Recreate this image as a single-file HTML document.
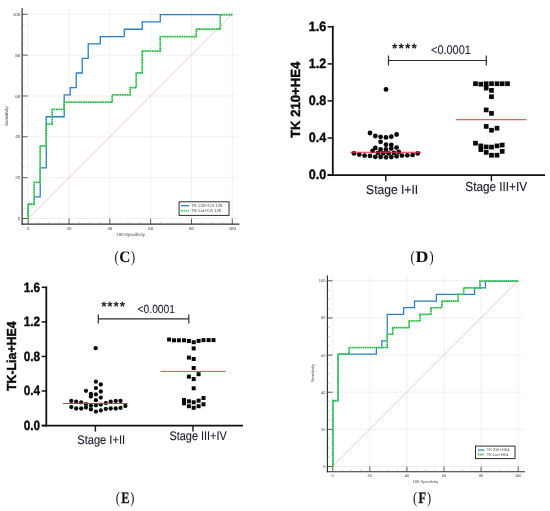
<!DOCTYPE html>
<html><head><meta charset="utf-8"><title>Figure</title>
<style>
html,body{margin:0;padding:0;background:#fff;}
svg{display:block;text-rendering:geometricPrecision;font-family:"Liberation Sans",sans-serif;}
</style></head>
<body>
<svg width="550" height="511" viewBox="0 0 550 511">
<rect width="550" height="511" fill="#fff"/>
<g id="panelC">
<line x1="22.1" y1="218.50" x2="237.8" y2="218.50" stroke="#eaeaea" stroke-width="0.7"/>
<line x1="28.20" y1="8.3" x2="28.20" y2="224.2" stroke="#eaeaea" stroke-width="0.7"/>
<line x1="22.1" y1="177.66" x2="237.8" y2="177.66" stroke="#eaeaea" stroke-width="0.7"/>
<line x1="69.02" y1="8.3" x2="69.02" y2="224.2" stroke="#eaeaea" stroke-width="0.7"/>
<line x1="22.1" y1="136.82" x2="237.8" y2="136.82" stroke="#eaeaea" stroke-width="0.7"/>
<line x1="109.84" y1="8.3" x2="109.84" y2="224.2" stroke="#eaeaea" stroke-width="0.7"/>
<line x1="22.1" y1="95.98" x2="237.8" y2="95.98" stroke="#eaeaea" stroke-width="0.7"/>
<line x1="150.66" y1="8.3" x2="150.66" y2="224.2" stroke="#eaeaea" stroke-width="0.7"/>
<line x1="22.1" y1="55.14" x2="237.8" y2="55.14" stroke="#eaeaea" stroke-width="0.7"/>
<line x1="191.48" y1="8.3" x2="191.48" y2="224.2" stroke="#eaeaea" stroke-width="0.7"/>
<line x1="22.1" y1="14.30" x2="237.8" y2="14.30" stroke="#eaeaea" stroke-width="0.7"/>
<line x1="232.30" y1="8.3" x2="232.30" y2="224.2" stroke="#eaeaea" stroke-width="0.7"/>
<line x1="28.20" y1="218.50" x2="232.30" y2="14.30" stroke="#f3b0b0" stroke-width="0.7"/>
<line x1="22.1" y1="8.3" x2="22.1" y2="224.79999999999998" stroke="#2c2c2c" stroke-width="1.2"/>
<line x1="21.5" y1="224.2" x2="239.3" y2="224.2" stroke="#2c2c2c" stroke-width="1.2"/>
<line x1="22.1" y1="218.50" x2="27.70" y2="218.50" stroke="#3a3a3a" stroke-width="0.8"/>
<line x1="28.20" y1="224.2" x2="28.20" y2="218.60" stroke="#3a3a3a" stroke-width="0.8"/>
<text x="20.10" y="220.08" font-size="4.4" text-anchor="end" fill="#3c3c3c">0</text>
<text x="28.20" y="229.79" font-size="4.4" text-anchor="middle" fill="#3c3c3c">0</text>
<line x1="22.1" y1="208.29" x2="24.70" y2="208.29" stroke="#999" stroke-width="0.5"/>
<line x1="38.41" y1="224.2" x2="38.41" y2="221.60" stroke="#999" stroke-width="0.5"/>
<line x1="22.1" y1="198.08" x2="24.70" y2="198.08" stroke="#999" stroke-width="0.5"/>
<line x1="48.61" y1="224.2" x2="48.61" y2="221.60" stroke="#999" stroke-width="0.5"/>
<line x1="22.1" y1="187.87" x2="24.70" y2="187.87" stroke="#999" stroke-width="0.5"/>
<line x1="58.82" y1="224.2" x2="58.82" y2="221.60" stroke="#999" stroke-width="0.5"/>
<line x1="22.1" y1="177.66" x2="27.70" y2="177.66" stroke="#3a3a3a" stroke-width="0.8"/>
<line x1="69.02" y1="224.2" x2="69.02" y2="218.60" stroke="#3a3a3a" stroke-width="0.8"/>
<text x="20.10" y="179.24" font-size="4.4" text-anchor="end" fill="#3c3c3c">20</text>
<text x="69.02" y="229.79" font-size="4.4" text-anchor="middle" fill="#3c3c3c">20</text>
<line x1="22.1" y1="167.45" x2="24.70" y2="167.45" stroke="#999" stroke-width="0.5"/>
<line x1="79.23" y1="224.2" x2="79.23" y2="221.60" stroke="#999" stroke-width="0.5"/>
<line x1="22.1" y1="157.24" x2="24.70" y2="157.24" stroke="#999" stroke-width="0.5"/>
<line x1="89.43" y1="224.2" x2="89.43" y2="221.60" stroke="#999" stroke-width="0.5"/>
<line x1="22.1" y1="147.03" x2="24.70" y2="147.03" stroke="#999" stroke-width="0.5"/>
<line x1="99.64" y1="224.2" x2="99.64" y2="221.60" stroke="#999" stroke-width="0.5"/>
<line x1="22.1" y1="136.82" x2="27.70" y2="136.82" stroke="#3a3a3a" stroke-width="0.8"/>
<line x1="109.84" y1="224.2" x2="109.84" y2="218.60" stroke="#3a3a3a" stroke-width="0.8"/>
<text x="20.10" y="138.40" font-size="4.4" text-anchor="end" fill="#3c3c3c">40</text>
<text x="109.84" y="229.79" font-size="4.4" text-anchor="middle" fill="#3c3c3c">40</text>
<line x1="22.1" y1="126.61" x2="24.70" y2="126.61" stroke="#999" stroke-width="0.5"/>
<line x1="120.05" y1="224.2" x2="120.05" y2="221.60" stroke="#999" stroke-width="0.5"/>
<line x1="22.1" y1="116.40" x2="24.70" y2="116.40" stroke="#999" stroke-width="0.5"/>
<line x1="130.25" y1="224.2" x2="130.25" y2="221.60" stroke="#999" stroke-width="0.5"/>
<line x1="22.1" y1="106.19" x2="24.70" y2="106.19" stroke="#999" stroke-width="0.5"/>
<line x1="140.46" y1="224.2" x2="140.46" y2="221.60" stroke="#999" stroke-width="0.5"/>
<line x1="22.1" y1="95.98" x2="27.70" y2="95.98" stroke="#3a3a3a" stroke-width="0.8"/>
<line x1="150.66" y1="224.2" x2="150.66" y2="218.60" stroke="#3a3a3a" stroke-width="0.8"/>
<text x="20.10" y="97.56" font-size="4.4" text-anchor="end" fill="#3c3c3c">60</text>
<text x="150.66" y="229.79" font-size="4.4" text-anchor="middle" fill="#3c3c3c">60</text>
<line x1="22.1" y1="85.77" x2="24.70" y2="85.77" stroke="#999" stroke-width="0.5"/>
<line x1="160.87" y1="224.2" x2="160.87" y2="221.60" stroke="#999" stroke-width="0.5"/>
<line x1="22.1" y1="75.56" x2="24.70" y2="75.56" stroke="#999" stroke-width="0.5"/>
<line x1="171.07" y1="224.2" x2="171.07" y2="221.60" stroke="#999" stroke-width="0.5"/>
<line x1="22.1" y1="65.35" x2="24.70" y2="65.35" stroke="#999" stroke-width="0.5"/>
<line x1="181.28" y1="224.2" x2="181.28" y2="221.60" stroke="#999" stroke-width="0.5"/>
<line x1="22.1" y1="55.14" x2="27.70" y2="55.14" stroke="#3a3a3a" stroke-width="0.8"/>
<line x1="191.48" y1="224.2" x2="191.48" y2="218.60" stroke="#3a3a3a" stroke-width="0.8"/>
<text x="20.10" y="56.72" font-size="4.4" text-anchor="end" fill="#3c3c3c">80</text>
<text x="191.48" y="229.79" font-size="4.4" text-anchor="middle" fill="#3c3c3c">80</text>
<line x1="22.1" y1="44.93" x2="24.70" y2="44.93" stroke="#999" stroke-width="0.5"/>
<line x1="201.69" y1="224.2" x2="201.69" y2="221.60" stroke="#999" stroke-width="0.5"/>
<line x1="22.1" y1="34.72" x2="24.70" y2="34.72" stroke="#999" stroke-width="0.5"/>
<line x1="211.89" y1="224.2" x2="211.89" y2="221.60" stroke="#999" stroke-width="0.5"/>
<line x1="22.1" y1="24.51" x2="24.70" y2="24.51" stroke="#999" stroke-width="0.5"/>
<line x1="222.10" y1="224.2" x2="222.10" y2="221.60" stroke="#999" stroke-width="0.5"/>
<line x1="22.1" y1="14.30" x2="27.70" y2="14.30" stroke="#3a3a3a" stroke-width="0.8"/>
<line x1="232.30" y1="224.2" x2="232.30" y2="218.60" stroke="#3a3a3a" stroke-width="0.8"/>
<text x="20.10" y="15.88" font-size="4.4" text-anchor="end" fill="#3c3c3c">100</text>
<text x="232.30" y="229.79" font-size="4.4" text-anchor="middle" fill="#3c3c3c">100</text>
<path d="M28.20,218.85 L28.20,204.26 L34.20,204.26 L34.20,196.97 L40.21,196.97 L40.21,167.80 L46.21,167.80 L46.21,116.75 L64.22,116.75 L64.22,94.87 L70.22,94.87 L70.22,87.58 L76.22,87.58 L76.22,72.99 L82.23,72.99 L82.23,58.41 L88.23,58.41 L88.23,43.82 L100.24,43.82 L100.24,36.53 L124.25,36.53 L124.25,29.24 L142.26,29.24 L142.26,21.94 L160.26,21.94 L160.26,14.65 L232.30,14.65" fill="none" stroke="#2a7fc4" stroke-width="1.3" stroke-linejoin="miter"/>
<path d="M28.45,218.85 L28.45,204.26" fill="none" stroke="#49c268" stroke-width="1.17"/>
<path d="M28.20,218.85 L28.20,204.26 L34.20,204.26 L34.20,182.39 L40.21,182.39 L40.21,145.92 L46.21,145.92 L46.21,124.04 L52.21,124.04 L52.21,109.46 L64.22,109.46 L64.22,102.16 L112.24,102.16 L112.24,94.87 L130.25,94.87 L130.25,87.58 L136.25,87.58 L136.25,72.99 L142.26,72.99 L142.26,51.11 L160.26,51.11 L160.26,36.53 L196.28,36.53 L196.28,29.24 L220.29,29.24 L220.29,14.65 L232.30,14.65" fill="none" stroke="#8fdca0" stroke-width="1.28"/>
<path d="M28.20,218.85 L28.20,204.26 L34.20,204.26 L34.20,182.39 L40.21,182.39 L40.21,145.92 L46.21,145.92 L46.21,124.04 L52.21,124.04 L52.21,109.46 L64.22,109.46 L64.22,102.16 L112.24,102.16 L112.24,94.87 L130.25,94.87 L130.25,87.58 L136.25,87.58 L136.25,72.99 L142.26,72.99 L142.26,51.11 L160.26,51.11 L160.26,36.53 L196.28,36.53 L196.28,29.24 L220.29,29.24 L220.29,14.65 L232.30,14.65" fill="none" stroke="#20bb40" stroke-width="1.75" stroke-dasharray="1.45 1.0"/>
<rect x="179.1" y="201.8" width="49.90" height="13.60" fill="#fff" stroke="#2c2c2c" stroke-width="1.0"/>
<line x1="181" y1="205.7" x2="189.0" y2="205.7" stroke="#2a7fc4" stroke-width="1.3"/>
<line x1="181" y1="210.7" x2="189.0" y2="210.7" stroke="#20bb40" stroke-width="1.6" stroke-dasharray="1.45 1.0"/>
<text x="191.4" y="207.28" font-size="4.4" fill="#3c3c3c">TK 210+CA 125</text>
<text x="191.4" y="212.28" font-size="4.4" fill="#3c3c3c">TK-Lia+CA 125</text>
<text x="130.6" y="236.18" font-size="4.4" text-anchor="middle" fill="#3c3c3c">100-Specificity</text>
<text transform="translate(7.68,116.1) rotate(-90)" font-size="4.4" text-anchor="middle" fill="#3c3c3c">Sensitivity</text>
</g>
<g id="panelD">
<line x1="332.8" y1="25.8" x2="332.8" y2="176.1" stroke="#111" stroke-width="1.8"/>
<line x1="327.6" y1="175.2" x2="545" y2="175.2" stroke="#111" stroke-width="1.8"/>
<line x1="327.60" y1="26.8" x2="332.8" y2="26.8" stroke="#111" stroke-width="1.5"/>
<text x="326.20" y="30.88" font-size="13.6" font-weight="bold" text-anchor="end" textLength="17.49" lengthAdjust="spacingAndGlyphs" fill="#0c0c0c" stroke="#0c0c0c" stroke-width="0.4">1.6</text>
<line x1="327.60" y1="63.9" x2="332.8" y2="63.9" stroke="#111" stroke-width="1.5"/>
<text x="326.20" y="67.98" font-size="13.6" font-weight="bold" text-anchor="end" textLength="17.49" lengthAdjust="spacingAndGlyphs" fill="#0c0c0c" stroke="#0c0c0c" stroke-width="0.4">1.2</text>
<line x1="327.60" y1="100.9" x2="332.8" y2="100.9" stroke="#111" stroke-width="1.5"/>
<text x="326.20" y="104.98" font-size="13.6" font-weight="bold" text-anchor="end" textLength="17.49" lengthAdjust="spacingAndGlyphs" fill="#0c0c0c" stroke="#0c0c0c" stroke-width="0.4">0.8</text>
<line x1="327.60" y1="138.0" x2="332.8" y2="138.0" stroke="#111" stroke-width="1.5"/>
<text x="326.20" y="142.08" font-size="13.6" font-weight="bold" text-anchor="end" textLength="17.49" lengthAdjust="spacingAndGlyphs" fill="#0c0c0c" stroke="#0c0c0c" stroke-width="0.4">0.4</text>
<line x1="327.60" y1="175.0" x2="332.8" y2="175.0" stroke="#111" stroke-width="1.5"/>
<text x="326.20" y="179.08" font-size="13.6" font-weight="bold" text-anchor="end" textLength="17.49" lengthAdjust="spacingAndGlyphs" fill="#0c0c0c" stroke="#0c0c0c" stroke-width="0.4">0.0</text>
<line x1="385.8" y1="175.2" x2="385.8" y2="181.2" stroke="#111" stroke-width="1.4"/>
<line x1="491.4" y1="175.2" x2="491.4" y2="181.2" stroke="#111" stroke-width="1.4"/>
<text transform="translate(299.7,99.9) rotate(-90)" font-size="13.19" font-weight="bold" text-anchor="middle" textLength="76.2" lengthAdjust="spacingAndGlyphs" fill="#0c0c0c" stroke="#0c0c0c" stroke-width="0.45">TK 210+HE4</text>
<text x="366.1" y="194.3" font-size="12.9" textLength="52.0" lengthAdjust="spacingAndGlyphs" fill="#222230" stroke="#222230" stroke-width="0.15">Stage I+II</text>
<text x="465.3" y="190.6" font-size="13.1" textLength="61.7" lengthAdjust="spacingAndGlyphs" fill="#222230" stroke="#222230" stroke-width="0.15">Stage III+IV</text>
<circle cx="386" cy="89.4" r="2.4" fill="#0a0a0a"/>
<circle cx="370.0" cy="133.0" r="2.4" fill="#0a0a0a"/>
<circle cx="375.3" cy="136.0" r="2.4" fill="#0a0a0a"/>
<circle cx="380.6" cy="136.8" r="2.4" fill="#0a0a0a"/>
<circle cx="386.0" cy="137.4" r="2.4" fill="#0a0a0a"/>
<circle cx="391.3" cy="136.7" r="2.4" fill="#0a0a0a"/>
<circle cx="396.6" cy="134.5" r="2.4" fill="#0a0a0a"/>
<circle cx="380.6" cy="141.8" r="2.4" fill="#0a0a0a"/>
<circle cx="386" cy="144.7" r="2.4" fill="#0a0a0a"/>
<circle cx="391.3" cy="145.0" r="2.4" fill="#0a0a0a"/>
<circle cx="375.3" cy="147.9" r="2.4" fill="#0a0a0a"/>
<circle cx="380.6" cy="149.5" r="2.4" fill="#0a0a0a"/>
<circle cx="386" cy="149.5" r="2.4" fill="#0a0a0a"/>
<circle cx="391.3" cy="148.6" r="2.4" fill="#0a0a0a"/>
<circle cx="396.6" cy="147.6" r="2.4" fill="#0a0a0a"/>
<circle cx="372.6" cy="150.9" r="2.4" fill="#0a0a0a"/>
<circle cx="398.8" cy="152.0" r="2.4" fill="#0a0a0a"/>
<circle cx="378" cy="152.9" r="2.4" fill="#0a0a0a"/>
<circle cx="383.3" cy="153.3" r="2.4" fill="#0a0a0a"/>
<circle cx="388.6" cy="153.3" r="2.4" fill="#0a0a0a"/>
<circle cx="394" cy="152.9" r="2.4" fill="#0a0a0a"/>
<circle cx="354.0" cy="153.4" r="2.4" fill="#0a0a0a"/>
<circle cx="359.3" cy="154.6" r="2.4" fill="#0a0a0a"/>
<circle cx="364.6" cy="155.6" r="2.4" fill="#0a0a0a"/>
<circle cx="370" cy="155.9" r="2.4" fill="#0a0a0a"/>
<circle cx="375.3" cy="156.8" r="2.4" fill="#0a0a0a"/>
<circle cx="380.6" cy="157.0" r="2.4" fill="#0a0a0a"/>
<circle cx="386" cy="157.3" r="2.4" fill="#0a0a0a"/>
<circle cx="391.3" cy="157.0" r="2.4" fill="#0a0a0a"/>
<circle cx="396.6" cy="156.3" r="2.4" fill="#0a0a0a"/>
<circle cx="402" cy="155.6" r="2.4" fill="#0a0a0a"/>
<circle cx="407.3" cy="155.3" r="2.4" fill="#0a0a0a"/>
<circle cx="412.6" cy="154.9" r="2.4" fill="#0a0a0a"/>
<circle cx="417.7" cy="153.4" r="2.4" fill="#0a0a0a"/>
<rect x="473.15" y="81.35" width="4.7" height="4.7" fill="#0a0a0a"/>
<rect x="478.45" y="81.85" width="4.7" height="4.7" fill="#0a0a0a"/>
<rect x="483.85" y="81.35" width="4.7" height="4.7" fill="#0a0a0a"/>
<rect x="489.15" y="81.35" width="4.7" height="4.7" fill="#0a0a0a"/>
<rect x="494.65" y="81.35" width="4.7" height="4.7" fill="#0a0a0a"/>
<rect x="499.85" y="81.35" width="4.7" height="4.7" fill="#0a0a0a"/>
<rect x="505.15" y="81.35" width="4.7" height="4.7" fill="#0a0a0a"/>
<rect x="483.85" y="85.75" width="4.7" height="4.7" fill="#0a0a0a"/>
<rect x="489.15" y="88.05" width="4.7" height="4.7" fill="#0a0a0a"/>
<rect x="489.15" y="94.35" width="4.7" height="4.7" fill="#0a0a0a"/>
<rect x="483.85" y="107.55" width="4.7" height="4.7" fill="#0a0a0a"/>
<rect x="489.15" y="111.05" width="4.7" height="4.7" fill="#0a0a0a"/>
<rect x="483.85" y="124.05" width="4.7" height="4.7" fill="#0a0a0a"/>
<rect x="489.15" y="127.85" width="4.7" height="4.7" fill="#0a0a0a"/>
<rect x="494.65" y="125.85" width="4.7" height="4.7" fill="#0a0a0a"/>
<rect x="473.15" y="140.85" width="4.7" height="4.7" fill="#0a0a0a"/>
<rect x="478.45" y="143.55" width="4.7" height="4.7" fill="#0a0a0a"/>
<rect x="478.45" y="147.25" width="4.7" height="4.7" fill="#0a0a0a"/>
<rect x="483.85" y="144.55" width="4.7" height="4.7" fill="#0a0a0a"/>
<rect x="489.15" y="144.75" width="4.7" height="4.7" fill="#0a0a0a"/>
<rect x="494.65" y="143.55" width="4.7" height="4.7" fill="#0a0a0a"/>
<rect x="499.85" y="142.75" width="4.7" height="4.7" fill="#0a0a0a"/>
<rect x="483.85" y="150.05" width="4.7" height="4.7" fill="#0a0a0a"/>
<rect x="489.15" y="152.85" width="4.7" height="4.7" fill="#0a0a0a"/>
<rect x="494.65" y="152.85" width="4.7" height="4.7" fill="#0a0a0a"/>
<rect x="499.85" y="149.05" width="4.7" height="4.7" fill="#0a0a0a"/>
<line x1="350.2" y1="152.25" x2="421.0" y2="152.25" stroke="#ee2838" stroke-width="1.15"/>
<line x1="456.1" y1="119.7" x2="526.5" y2="119.7" stroke="#f4555f" stroke-width="1.2"/>
<path d="M388.5,55.5 V65.4 M388.5,60.5 H486.3 M486.3,55.5 V65.4" stroke="#2c2c2c" stroke-width="1.2" fill="none"/>
<text x="392.0" y="52.7" font-size="13.8" font-weight="bold" letter-spacing="1.17" fill="#1a1a1a">****</text>
<text x="431.0" y="54.4" font-size="12.4" textLength="39.9" lengthAdjust="spacingAndGlyphs" fill="#2a2a40" stroke="#2a2a40" stroke-width="0.12">&lt;0.0001</text>
</g>
<g id="panelE">
<line x1="46.3" y1="286.4" x2="46.3" y2="426.45" stroke="#111" stroke-width="1.8"/>
<line x1="41.7" y1="425.55" x2="243" y2="425.55" stroke="#111" stroke-width="1.8"/>
<line x1="41.70" y1="287.35" x2="46.3" y2="287.35" stroke="#111" stroke-width="1.5"/>
<text x="40.10" y="291.67" font-size="13.5" font-weight="bold" text-anchor="end" textLength="16.42" lengthAdjust="spacingAndGlyphs" fill="#0c0c0c" stroke="#0c0c0c" stroke-width="0.4">1.6</text>
<line x1="41.70" y1="321.9" x2="46.3" y2="321.9" stroke="#111" stroke-width="1.5"/>
<text x="40.10" y="326.22" font-size="13.5" font-weight="bold" text-anchor="end" textLength="16.42" lengthAdjust="spacingAndGlyphs" fill="#0c0c0c" stroke="#0c0c0c" stroke-width="0.4">1.2</text>
<line x1="41.70" y1="356.45" x2="46.3" y2="356.45" stroke="#111" stroke-width="1.5"/>
<text x="40.10" y="360.77" font-size="13.5" font-weight="bold" text-anchor="end" textLength="16.42" lengthAdjust="spacingAndGlyphs" fill="#0c0c0c" stroke="#0c0c0c" stroke-width="0.4">0.8</text>
<line x1="41.70" y1="391.0" x2="46.3" y2="391.0" stroke="#111" stroke-width="1.5"/>
<text x="40.10" y="395.32" font-size="13.5" font-weight="bold" text-anchor="end" textLength="16.42" lengthAdjust="spacingAndGlyphs" fill="#0c0c0c" stroke="#0c0c0c" stroke-width="0.4">0.4</text>
<line x1="41.70" y1="425.5" x2="46.3" y2="425.5" stroke="#111" stroke-width="1.5"/>
<text x="40.10" y="429.82" font-size="13.5" font-weight="bold" text-anchor="end" textLength="16.42" lengthAdjust="spacingAndGlyphs" fill="#0c0c0c" stroke="#0c0c0c" stroke-width="0.4">0.0</text>
<line x1="95.4" y1="425.55" x2="95.4" y2="431.55" stroke="#111" stroke-width="1.4"/>
<line x1="193" y1="425.55" x2="193" y2="431.55" stroke="#111" stroke-width="1.4"/>
<text transform="translate(15.9,356.2) rotate(-90)" font-size="13.09" font-weight="bold" text-anchor="middle" textLength="69.8" lengthAdjust="spacingAndGlyphs" fill="#0c0c0c" stroke="#0c0c0c" stroke-width="0.45">TK-Lia+HE4</text>
<text x="77.3" y="443.7" font-size="12.5" textLength="47.8" lengthAdjust="spacingAndGlyphs" fill="#222230" stroke="#222230" stroke-width="0.15">Stage I+II</text>
<text x="169.5" y="440.1" font-size="12.5" textLength="57.2" lengthAdjust="spacingAndGlyphs" fill="#222230" stroke="#222230" stroke-width="0.15">Stage III+IV</text>
<circle cx="95.7" cy="348.2" r="2.15" fill="#0a0a0a"/>
<circle cx="95.9" cy="381.7" r="2.15" fill="#0a0a0a"/>
<circle cx="95.9" cy="388.09999999999997" r="2.15" fill="#0a0a0a"/>
<circle cx="95.9" cy="394.4" r="2.15" fill="#0a0a0a"/>
<circle cx="95.9" cy="400.2" r="2.15" fill="#0a0a0a"/>
<circle cx="95.9" cy="405.29999999999995" r="2.15" fill="#0a0a0a"/>
<circle cx="95.9" cy="411.59999999999997" r="2.15" fill="#0a0a0a"/>
<circle cx="100.8" cy="384.5" r="2.15" fill="#0a0a0a"/>
<circle cx="100.8" cy="391.5" r="2.15" fill="#0a0a0a"/>
<circle cx="100.8" cy="397.59999999999997" r="2.15" fill="#0a0a0a"/>
<circle cx="100.8" cy="404.59999999999997" r="2.15" fill="#0a0a0a"/>
<circle cx="100.8" cy="410.4" r="2.15" fill="#0a0a0a"/>
<circle cx="86" cy="390.79999999999995" r="2.15" fill="#0a0a0a"/>
<circle cx="86" cy="404.09999999999997" r="2.15" fill="#0a0a0a"/>
<circle cx="86" cy="407.5" r="2.15" fill="#0a0a0a"/>
<circle cx="90.9" cy="394.0" r="2.15" fill="#0a0a0a"/>
<circle cx="90.9" cy="396.59999999999997" r="2.15" fill="#0a0a0a"/>
<circle cx="90.9" cy="405.7" r="2.15" fill="#0a0a0a"/>
<circle cx="90.9" cy="409.4" r="2.15" fill="#0a0a0a"/>
<circle cx="71.3" cy="400.9" r="2.15" fill="#0a0a0a"/>
<circle cx="71.3" cy="407.09999999999997" r="2.15" fill="#0a0a0a"/>
<circle cx="76.2" cy="401.7" r="2.15" fill="#0a0a0a"/>
<circle cx="76.2" cy="408.5" r="2.15" fill="#0a0a0a"/>
<circle cx="81.2" cy="402.4" r="2.15" fill="#0a0a0a"/>
<circle cx="81.2" cy="408.5" r="2.15" fill="#0a0a0a"/>
<circle cx="105.8" cy="403.09999999999997" r="2.15" fill="#0a0a0a"/>
<circle cx="105.8" cy="408.9" r="2.15" fill="#0a0a0a"/>
<circle cx="110.7" cy="401.7" r="2.15" fill="#0a0a0a"/>
<circle cx="110.7" cy="408.5" r="2.15" fill="#0a0a0a"/>
<circle cx="115.7" cy="400.9" r="2.15" fill="#0a0a0a"/>
<circle cx="115.7" cy="408.5" r="2.15" fill="#0a0a0a"/>
<circle cx="120.5" cy="400.9" r="2.15" fill="#0a0a0a"/>
<circle cx="120.5" cy="407.9" r="2.15" fill="#0a0a0a"/>
<circle cx="125.4" cy="406.0" r="2.15" fill="#0a0a0a"/>
<rect x="167.10" y="337.50" width="4.0" height="4.0" fill="#0a0a0a"/>
<rect x="172.00" y="338.30" width="4.0" height="4.0" fill="#0a0a0a"/>
<rect x="176.90" y="338.30" width="4.0" height="4.0" fill="#0a0a0a"/>
<rect x="182.00" y="338.30" width="4.0" height="4.0" fill="#0a0a0a"/>
<rect x="186.90" y="339.00" width="4.0" height="4.0" fill="#0a0a0a"/>
<rect x="191.70" y="340.20" width="4.0" height="4.0" fill="#0a0a0a"/>
<rect x="196.60" y="338.90" width="4.0" height="4.0" fill="#0a0a0a"/>
<rect x="201.50" y="338.10" width="4.0" height="4.0" fill="#0a0a0a"/>
<rect x="206.60" y="338.10" width="4.0" height="4.0" fill="#0a0a0a"/>
<rect x="211.50" y="338.10" width="4.0" height="4.0" fill="#0a0a0a"/>
<rect x="191.70" y="346.40" width="4.0" height="4.0" fill="#0a0a0a"/>
<rect x="186.90" y="355.60" width="4.0" height="4.0" fill="#0a0a0a"/>
<rect x="191.70" y="357.00" width="4.0" height="4.0" fill="#0a0a0a"/>
<rect x="191.70" y="366.00" width="4.0" height="4.0" fill="#0a0a0a"/>
<rect x="196.60" y="372.20" width="4.0" height="4.0" fill="#0a0a0a"/>
<rect x="186.90" y="374.60" width="4.0" height="4.0" fill="#0a0a0a"/>
<rect x="191.70" y="377.10" width="4.0" height="4.0" fill="#0a0a0a"/>
<rect x="191.70" y="386.30" width="4.0" height="4.0" fill="#0a0a0a"/>
<rect x="182.00" y="398.00" width="4.0" height="4.0" fill="#0a0a0a"/>
<rect x="182.00" y="401.30" width="4.0" height="4.0" fill="#0a0a0a"/>
<rect x="186.90" y="399.30" width="4.0" height="4.0" fill="#0a0a0a"/>
<rect x="191.70" y="400.30" width="4.0" height="4.0" fill="#0a0a0a"/>
<rect x="196.60" y="398.70" width="4.0" height="4.0" fill="#0a0a0a"/>
<rect x="201.50" y="396.00" width="4.0" height="4.0" fill="#0a0a0a"/>
<rect x="201.50" y="402.30" width="4.0" height="4.0" fill="#0a0a0a"/>
<rect x="186.90" y="404.20" width="4.0" height="4.0" fill="#0a0a0a"/>
<rect x="191.70" y="405.80" width="4.0" height="4.0" fill="#0a0a0a"/>
<rect x="196.60" y="404.20" width="4.0" height="4.0" fill="#0a0a0a"/>
<line x1="63" y1="403.5" x2="127.7" y2="403.5" stroke="#f03040" stroke-width="1.0"/>
<line x1="160.5" y1="371.4" x2="225.5" y2="371.4" stroke="#f2404c" stroke-width="1.0"/>
<path d="M98.3,314.4 V323.5 M98.3,318.95 H188.8 M188.8,314.4 V323.5" stroke="#2c2c2c" stroke-width="1.2" fill="none"/>
<text x="101.2" y="311.4" font-size="13.6" font-weight="bold" letter-spacing="0.87" fill="#1a1a1a">****</text>
<text x="137.5" y="312.95" font-size="11.7" textLength="37.6" lengthAdjust="spacingAndGlyphs" fill="#2a2a40" stroke="#2a2a40" stroke-width="0.12">&lt;0.0001</text>
</g>
<g id="panelF">
<line x1="327.4" y1="466.50" x2="523.5" y2="466.50" stroke="#eaeaea" stroke-width="0.7"/>
<line x1="332.70" y1="275.4" x2="332.70" y2="471.7" stroke="#eaeaea" stroke-width="0.7"/>
<line x1="327.4" y1="429.36" x2="523.5" y2="429.36" stroke="#eaeaea" stroke-width="0.7"/>
<line x1="369.80" y1="275.4" x2="369.80" y2="471.7" stroke="#eaeaea" stroke-width="0.7"/>
<line x1="327.4" y1="392.22" x2="523.5" y2="392.22" stroke="#eaeaea" stroke-width="0.7"/>
<line x1="406.90" y1="275.4" x2="406.90" y2="471.7" stroke="#eaeaea" stroke-width="0.7"/>
<line x1="327.4" y1="355.08" x2="523.5" y2="355.08" stroke="#eaeaea" stroke-width="0.7"/>
<line x1="444.00" y1="275.4" x2="444.00" y2="471.7" stroke="#eaeaea" stroke-width="0.7"/>
<line x1="327.4" y1="317.94" x2="523.5" y2="317.94" stroke="#eaeaea" stroke-width="0.7"/>
<line x1="481.10" y1="275.4" x2="481.10" y2="471.7" stroke="#eaeaea" stroke-width="0.7"/>
<line x1="327.4" y1="280.80" x2="523.5" y2="280.80" stroke="#eaeaea" stroke-width="0.7"/>
<line x1="518.20" y1="275.4" x2="518.20" y2="471.7" stroke="#eaeaea" stroke-width="0.7"/>
<line x1="332.70" y1="466.50" x2="518.20" y2="280.80" stroke="#f3b0b0" stroke-width="0.7"/>
<line x1="327.4" y1="275.4" x2="327.4" y2="472.3" stroke="#2c2c2c" stroke-width="1.15"/>
<line x1="326.79999999999995" y1="471.7" x2="525.0" y2="471.7" stroke="#2c2c2c" stroke-width="1.15"/>
<line x1="327.4" y1="466.50" x2="332.49" y2="466.50" stroke="#3a3a3a" stroke-width="0.8"/>
<line x1="332.70" y1="471.7" x2="332.70" y2="466.61" stroke="#3a3a3a" stroke-width="0.8"/>
<text x="325.40" y="467.92" font-size="3.95" text-anchor="end" fill="#3c3c3c">0</text>
<text x="332.70" y="476.76" font-size="3.95" text-anchor="middle" fill="#3c3c3c">0</text>
<line x1="327.4" y1="457.21" x2="329.76" y2="457.21" stroke="#999" stroke-width="0.5"/>
<line x1="341.97" y1="471.7" x2="341.97" y2="469.34" stroke="#999" stroke-width="0.5"/>
<line x1="327.4" y1="447.93" x2="329.76" y2="447.93" stroke="#999" stroke-width="0.5"/>
<line x1="351.25" y1="471.7" x2="351.25" y2="469.34" stroke="#999" stroke-width="0.5"/>
<line x1="327.4" y1="438.64" x2="329.76" y2="438.64" stroke="#999" stroke-width="0.5"/>
<line x1="360.52" y1="471.7" x2="360.52" y2="469.34" stroke="#999" stroke-width="0.5"/>
<line x1="327.4" y1="429.36" x2="332.49" y2="429.36" stroke="#3a3a3a" stroke-width="0.8"/>
<line x1="369.80" y1="471.7" x2="369.80" y2="466.61" stroke="#3a3a3a" stroke-width="0.8"/>
<text x="325.40" y="430.78" font-size="3.95" text-anchor="end" fill="#3c3c3c">20</text>
<text x="369.80" y="476.76" font-size="3.95" text-anchor="middle" fill="#3c3c3c">20</text>
<line x1="327.4" y1="420.07" x2="329.76" y2="420.07" stroke="#999" stroke-width="0.5"/>
<line x1="379.07" y1="471.7" x2="379.07" y2="469.34" stroke="#999" stroke-width="0.5"/>
<line x1="327.4" y1="410.79" x2="329.76" y2="410.79" stroke="#999" stroke-width="0.5"/>
<line x1="388.35" y1="471.7" x2="388.35" y2="469.34" stroke="#999" stroke-width="0.5"/>
<line x1="327.4" y1="401.50" x2="329.76" y2="401.50" stroke="#999" stroke-width="0.5"/>
<line x1="397.62" y1="471.7" x2="397.62" y2="469.34" stroke="#999" stroke-width="0.5"/>
<line x1="327.4" y1="392.22" x2="332.49" y2="392.22" stroke="#3a3a3a" stroke-width="0.8"/>
<line x1="406.90" y1="471.7" x2="406.90" y2="466.61" stroke="#3a3a3a" stroke-width="0.8"/>
<text x="325.40" y="393.64" font-size="3.95" text-anchor="end" fill="#3c3c3c">40</text>
<text x="406.90" y="476.76" font-size="3.95" text-anchor="middle" fill="#3c3c3c">40</text>
<line x1="327.4" y1="382.94" x2="329.76" y2="382.94" stroke="#999" stroke-width="0.5"/>
<line x1="416.18" y1="471.7" x2="416.18" y2="469.34" stroke="#999" stroke-width="0.5"/>
<line x1="327.4" y1="373.65" x2="329.76" y2="373.65" stroke="#999" stroke-width="0.5"/>
<line x1="425.45" y1="471.7" x2="425.45" y2="469.34" stroke="#999" stroke-width="0.5"/>
<line x1="327.4" y1="364.37" x2="329.76" y2="364.37" stroke="#999" stroke-width="0.5"/>
<line x1="434.73" y1="471.7" x2="434.73" y2="469.34" stroke="#999" stroke-width="0.5"/>
<line x1="327.4" y1="355.08" x2="332.49" y2="355.08" stroke="#3a3a3a" stroke-width="0.8"/>
<line x1="444.00" y1="471.7" x2="444.00" y2="466.61" stroke="#3a3a3a" stroke-width="0.8"/>
<text x="325.40" y="356.50" font-size="3.95" text-anchor="end" fill="#3c3c3c">60</text>
<text x="444.00" y="476.76" font-size="3.95" text-anchor="middle" fill="#3c3c3c">60</text>
<line x1="327.4" y1="345.80" x2="329.76" y2="345.80" stroke="#999" stroke-width="0.5"/>
<line x1="453.28" y1="471.7" x2="453.28" y2="469.34" stroke="#999" stroke-width="0.5"/>
<line x1="327.4" y1="336.51" x2="329.76" y2="336.51" stroke="#999" stroke-width="0.5"/>
<line x1="462.55" y1="471.7" x2="462.55" y2="469.34" stroke="#999" stroke-width="0.5"/>
<line x1="327.4" y1="327.23" x2="329.76" y2="327.23" stroke="#999" stroke-width="0.5"/>
<line x1="471.83" y1="471.7" x2="471.83" y2="469.34" stroke="#999" stroke-width="0.5"/>
<line x1="327.4" y1="317.94" x2="332.49" y2="317.94" stroke="#3a3a3a" stroke-width="0.8"/>
<line x1="481.10" y1="471.7" x2="481.10" y2="466.61" stroke="#3a3a3a" stroke-width="0.8"/>
<text x="325.40" y="319.36" font-size="3.95" text-anchor="end" fill="#3c3c3c">80</text>
<text x="481.10" y="476.76" font-size="3.95" text-anchor="middle" fill="#3c3c3c">80</text>
<line x1="327.4" y1="308.65" x2="329.76" y2="308.65" stroke="#999" stroke-width="0.5"/>
<line x1="490.38" y1="471.7" x2="490.38" y2="469.34" stroke="#999" stroke-width="0.5"/>
<line x1="327.4" y1="299.37" x2="329.76" y2="299.37" stroke="#999" stroke-width="0.5"/>
<line x1="499.65" y1="471.7" x2="499.65" y2="469.34" stroke="#999" stroke-width="0.5"/>
<line x1="327.4" y1="290.09" x2="329.76" y2="290.09" stroke="#999" stroke-width="0.5"/>
<line x1="508.93" y1="471.7" x2="508.93" y2="469.34" stroke="#999" stroke-width="0.5"/>
<line x1="327.4" y1="280.80" x2="332.49" y2="280.80" stroke="#3a3a3a" stroke-width="0.8"/>
<line x1="518.20" y1="471.7" x2="518.20" y2="466.61" stroke="#3a3a3a" stroke-width="0.8"/>
<text x="325.40" y="282.22" font-size="3.95" text-anchor="end" fill="#3c3c3c">100</text>
<text x="518.20" y="476.76" font-size="3.95" text-anchor="middle" fill="#3c3c3c">100</text>
<path d="M332.70,466.90 L332.70,400.58 L338.16,400.58 L338.16,354.15 L376.35,354.15 L376.35,347.52 L381.80,347.52 L381.80,340.89 L387.26,340.89 L387.26,314.36 L403.63,314.36 L403.63,307.73 L414.54,307.73 L414.54,301.10 L436.36,301.10 L436.36,294.46 L474.55,294.46 L474.55,287.83 L485.46,287.83 L485.46,281.20 L518.20,281.20" fill="none" stroke="#2a7fc4" stroke-width="1.25" stroke-linejoin="miter"/>
<path d="M332.95,466.90 L332.95,400.58 L338.41,400.58 L338.41,354.15" fill="none" stroke="#49c268" stroke-width="1.12"/>
<path d="M332.70,466.90 L332.70,400.58 L338.16,400.58 L338.16,354.15 L349.07,354.15 L349.07,347.52 L387.26,347.52 L387.26,334.26 L392.71,334.26 L392.71,327.62 L409.08,327.62 L409.08,320.99 L419.99,320.99 L419.99,314.36 L430.91,314.36 L430.91,307.73 L441.82,307.73 L441.82,301.10 L458.19,301.10 L458.19,294.46 L463.64,294.46 L463.64,287.83 L480.01,287.83 L480.01,281.20 L518.20,281.20" fill="none" stroke="#8fdca0" stroke-width="1.24"/>
<path d="M332.70,466.90 L332.70,400.58 L338.16,400.58 L338.16,354.15 L349.07,354.15 L349.07,347.52 L387.26,347.52 L387.26,334.26 L392.71,334.26 L392.71,327.62 L409.08,327.62 L409.08,320.99 L419.99,320.99 L419.99,314.36 L430.91,314.36 L430.91,307.73 L441.82,307.73 L441.82,301.10 L458.19,301.10 L458.19,294.46 L463.64,294.46 L463.64,287.83 L480.01,287.83 L480.01,281.20 L518.20,281.20" fill="none" stroke="#20bb40" stroke-width="1.70" stroke-dasharray="1.35 0.85"/>
<rect x="475.5" y="446.1" width="39.50" height="12.50" fill="#fff" stroke="#2c2c2c" stroke-width="1.0"/>
<line x1="477.9" y1="450" x2="484.3" y2="450" stroke="#2a7fc4" stroke-width="1.25"/>
<line x1="477.9" y1="454.6" x2="484.3" y2="454.6" stroke="#20bb40" stroke-width="1.55" stroke-dasharray="1.35 0.85"/>
<text x="486.8" y="451.42" font-size="3.95" fill="#3c3c3c">TK 210+HE4</text>
<text x="486.8" y="456.02" font-size="3.95" fill="#3c3c3c">TK-Lia+HE4</text>
<text x="425.5" y="482.82" font-size="3.95" text-anchor="middle" fill="#3c3c3c">100-Specificity</text>
<text transform="translate(314.02,373.2) rotate(-90)" font-size="3.95" text-anchor="middle" fill="#3c3c3c">Sensitivity</text>
</g>
<g font-family="'Liberation Serif', serif" font-size="15.9" fill="#111">
<text transform="translate(114.40,262.1) scale(0.78,1)">(</text><text transform="translate(119.3,262.1) scale(0.97,1)" font-weight="bold" stroke="#111" stroke-width="0.05">C</text><text transform="translate(130.94,262.1) scale(0.78,1)">)</text>
<text transform="translate(410.50,261.9) scale(0.78,1)">(</text><text transform="translate(415.4,261.9) scale(1.12,1)" font-weight="bold" stroke="#111" stroke-width="0.05">D</text><text transform="translate(429.44,261.9) scale(0.78,1)">)</text>
<text transform="translate(115.70,502.7) scale(0.78,1)">(</text><text transform="translate(121.3,502.7) scale(0.77,1)" font-weight="bold" stroke="#111" stroke-width="0.3">E</text><text transform="translate(130.34,502.7) scale(0.78,1)">)</text>
<text transform="translate(412.90,502.8) scale(0.78,1)">(</text><text transform="translate(418.5,502.8) scale(0.78,1)" font-weight="bold" stroke="#111" stroke-width="0.3">F</text><text transform="translate(426.94,502.8) scale(0.78,1)">)</text>
</g>
</svg>
</body></html>
